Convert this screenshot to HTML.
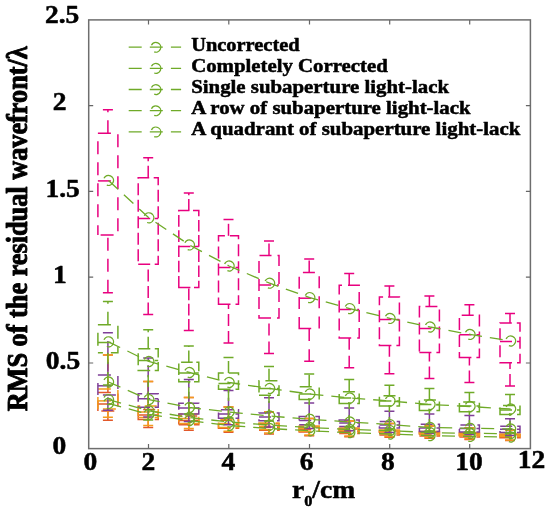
<!DOCTYPE html>
<html><head><meta charset="utf-8"><title>RMS of the residual wavefront</title>
<style>html,body{margin:0;padding:0;background:#fff}body{width:550px;height:510px;overflow:hidden}</style>
</head><body>
<svg width="550" height="510" viewBox="0 0 550 510" style="display:block">
<rect width="550" height="510" fill="#fff"/>
<rect x="88.7" y="19.9" width="441.7" height="428.7" fill="none" stroke="#6e6e6e" stroke-width="1.5"/><path d="M88.7 105.7h4.5M530.4 105.7h-4.5M88.7 191.4h4.5M530.4 191.4h-4.5M88.7 277.2h4.5M530.4 277.2h-4.5M88.7 363.0h4.5M530.4 363.0h-4.5M148.5 448.6v-4.5M148.5 19.9v4.5M228.8 448.6v-4.5M228.8 19.9v4.5M309.5 448.6v-4.5M309.5 19.9v4.5M389.7 448.6v-4.5M389.7 19.9v4.5M469.7 448.6v-4.5M469.7 19.9v4.5" stroke="#666" stroke-width="1.2" fill="none"/>
<g fill="none" stroke-width="1.5"><g stroke="#E8007F"><path d="M97.9 133.2H117.9V234.9H97.9" stroke-dasharray="13 8"/><path d="M97.9 133.2V234.9" stroke-dasharray="13 8" stroke-dashoffset="13"/><path d="M97.9 180.9H117.9" stroke-dasharray="13 8"/><path d="M107.9 133.2V109.7" stroke-dasharray="13 8"/><path d="M107.9 292.8V234.9" stroke-dasharray="13 8"/><path d="M102.9 109.7H112.9M102.9 292.8H112.9"/></g><g stroke="#E8007F"><path d="M138.2 264.3H158.2V177.8H138.2Z" stroke-dasharray="12 4.5"/><path d="M138.2 218.6H158.2" stroke-dasharray="12 4.5"/><path d="M148.2 177.8V157.7" stroke-dasharray="12 4.5"/><path d="M148.2 314.6V264.3" stroke-dasharray="12 4.5"/><path d="M143.2 157.7H153.2M143.2 314.6H153.2"/></g><g stroke="#E8007F"><path d="M178.8 287.5H198.8V210.5H178.8Z" stroke-dasharray="11.6 3.6"/><path d="M178.8 246.6H198.8" stroke-dasharray="11.6 3.6"/><path d="M188.8 210.5V192.9" stroke-dasharray="11.6 3.6"/><path d="M188.8 330.6V287.5" stroke-dasharray="11.6 3.6"/><path d="M183.8 192.9H193.8M183.8 330.6H193.8"/></g><g stroke="#E8007F"><path d="M218.5 304.2H238.5V235.8H218.5Z" stroke-dasharray="12 5"/><path d="M218.5 267.5H238.5" stroke-dasharray="12 5"/><path d="M228.5 235.8V219.5" stroke-dasharray="12 5"/><path d="M228.5 343.1V304.2" stroke-dasharray="12 5"/><path d="M223.5 219.5H233.5M223.5 343.1H233.5"/></g><g stroke="#E8007F"><path d="M259 318H279V255.5H259Z" stroke-dasharray="12 6"/><path d="M259 285H279" stroke-dasharray="12 6"/><path d="M269 255.5V241.1" stroke-dasharray="12 6"/><path d="M269 353.4V318" stroke-dasharray="12 6"/><path d="M264 241.1H274M264 353.4H274"/></g><g stroke="#E8007F"><path d="M299.2 328.5H319.2V272.4H299.2Z" stroke-dasharray="12 8.1"/><path d="M299.2 298.2H319.2" stroke-dasharray="12 8.1"/><path d="M309.2 272.4V258.9" stroke-dasharray="12 8.1"/><path d="M309.2 361.2V328.5" stroke-dasharray="12 8.1"/><path d="M304.2 258.9H314.2M304.2 361.2H314.2"/></g><g stroke="#E8007F"><path d="M339.2 338H359.2V285.2H339.2Z" stroke-dasharray="12 6"/><path d="M339.2 309.6H359.2" stroke-dasharray="12 6"/><path d="M349.2 285.2V273.4" stroke-dasharray="12 6"/><path d="M349.2 367.8V338" stroke-dasharray="12 6"/><path d="M344.2 273.4H354.2M344.2 367.8H354.2"/></g><g stroke="#E8007F"><path d="M379.4 345.6H399.4V296.9H379.4Z" stroke-dasharray="12 5"/><path d="M379.4 319.5H399.4" stroke-dasharray="12 5"/><path d="M389.4 296.9V285.9" stroke-dasharray="12 5"/><path d="M389.4 373.8V345.6" stroke-dasharray="12 5"/><path d="M384.4 285.9H394.4M384.4 373.8H394.4"/></g><g stroke="#E8007F"><path d="M419.4 352.5H439.4V306.5H419.4Z" stroke-dasharray="12 5"/><path d="M419.4 328.4H439.4" stroke-dasharray="12 5"/><path d="M429.4 306.5V296" stroke-dasharray="12 5"/><path d="M429.4 378.4V352.5" stroke-dasharray="12 5"/><path d="M424.4 296H434.4M424.4 378.4H434.4"/></g><g stroke="#E8007F"><path d="M459.4 357.6H479.4V315.3H459.4Z" stroke-dasharray="12 5"/><path d="M459.4 334.8H479.4" stroke-dasharray="12 5"/><path d="M469.4 315.3V304.7" stroke-dasharray="12 5"/><path d="M469.4 382.4V357.6" stroke-dasharray="12 5"/><path d="M464.4 304.7H474.4M464.4 382.4H474.4"/></g><g stroke="#E8007F"><path d="M500 362.8H520V323H500Z" stroke-dasharray="12 5"/><path d="M500 341.6H520" stroke-dasharray="12 5"/><path d="M510 323V313.6" stroke-dasharray="12 5"/><path d="M510 385.9V362.8" stroke-dasharray="12 5"/><path d="M505 313.6H515M505 385.9H515"/></g></g><g fill="none" stroke-width="1.5"><g stroke="#E2582A"><path d="M97.9 392.5H117.9V410.9H97.9" stroke-dasharray="13 8"/><path d="M97.9 392.5V410.9" stroke-dasharray="13 8" stroke-dashoffset="13"/><path d="M97.9 404H117.9" stroke-dasharray="13 8"/><path d="M107.9 392.5V355.1" stroke-dasharray="13 8"/><path d="M107.9 420.3V410.9" stroke-dasharray="13 8"/><path d="M102.9 355.1H112.9M102.9 420.3H112.9"/></g><g stroke="#E2582A"><path d="M138.2 419.4H158.2V409.4H138.2Z" stroke-dasharray="12 4.5"/><path d="M138.2 415H158.2" stroke-dasharray="12 4.5"/><path d="M148.2 409.4V381.6" stroke-dasharray="12 4.5"/><path d="M148.2 427.5V419.4" stroke-dasharray="12 4.5"/><path d="M143.2 381.6H153.2M143.2 427.5H153.2"/></g><g stroke="#E2582A"><path d="M178.8 424.8H198.8V416H178.8Z" stroke-dasharray="11.6 3.6"/><path d="M178.8 420.5H198.8" stroke-dasharray="11.6 3.6"/><path d="M188.8 416V397.5" stroke-dasharray="11.6 3.6"/><path d="M188.8 430.3V424.8" stroke-dasharray="11.6 3.6"/><path d="M183.8 397.5H193.8M183.8 430.3H193.8"/></g><g stroke="#E2582A"><path d="M218.5 428.2H238.5V420.3H218.5Z" stroke-dasharray="12 5"/><path d="M218.5 424.3H238.5" stroke-dasharray="12 5"/><path d="M228.5 420.3V407.1" stroke-dasharray="12 5"/><path d="M228.5 432.3V428.2" stroke-dasharray="12 5"/><path d="M223.5 407.1H233.5M223.5 432.3H233.5"/></g><g stroke="#E2582A"><path d="M259 430.3H279V423.8H259Z" stroke-dasharray="12 6"/><path d="M259 427.2H279" stroke-dasharray="12 6"/><path d="M269 423.8V412" stroke-dasharray="12 6"/><path d="M269 434V430.3" stroke-dasharray="12 6"/><path d="M264 412H274M264 434H274"/></g><g stroke="#E2582A"><path d="M299.2 432H319.2V427H299.2Z" stroke-dasharray="12 8.1"/><path d="M299.2 429.5H319.2" stroke-dasharray="12 8.1"/><path d="M309.2 427V418.5" stroke-dasharray="12 8.1"/><path d="M309.2 435.8V432" stroke-dasharray="12 8.1"/><path d="M304.2 418.5H314.2M304.2 435.8H314.2"/></g><g stroke="#E2582A"><path d="M339.2 433.6H359.2V428.9H339.2Z" stroke-dasharray="12 6"/><path d="M339.2 431.3H359.2" stroke-dasharray="12 6"/><path d="M349.2 428.9V421" stroke-dasharray="12 6"/><path d="M349.2 436.7V433.6" stroke-dasharray="12 6"/><path d="M344.2 421H354.2M344.2 436.7H354.2"/></g><g stroke="#E2582A"><path d="M379.4 434.9H399.4V431H379.4Z" stroke-dasharray="12 5"/><path d="M379.4 433H399.4" stroke-dasharray="12 5"/><path d="M389.4 431V423.6" stroke-dasharray="12 5"/><path d="M389.4 437.3V434.9" stroke-dasharray="12 5"/><path d="M384.4 423.6H394.4M384.4 437.3H394.4"/></g><g stroke="#E2582A"><path d="M419.4 436H439.4V432.4H419.4Z" stroke-dasharray="12 5"/><path d="M419.4 434.2H439.4" stroke-dasharray="12 5"/><path d="M429.4 432.4V426" stroke-dasharray="12 5"/><path d="M429.4 438.3V436" stroke-dasharray="12 5"/><path d="M424.4 426H434.4M424.4 438.3H434.4"/></g><g stroke="#E2582A"><path d="M459.4 436.9H479.4V433.6H459.4Z" stroke-dasharray="12 5"/><path d="M459.4 435.3H479.4" stroke-dasharray="12 5"/><path d="M469.4 433.6V428" stroke-dasharray="12 5"/><path d="M469.4 439.5V436.9" stroke-dasharray="12 5"/><path d="M464.4 428H474.4M464.4 439.5H474.4"/></g><g stroke="#E2582A"><path d="M500 437.7H520V434.8H500Z" stroke-dasharray="12 5"/><path d="M500 436.2H520" stroke-dasharray="12 5"/><path d="M510 434.8V430" stroke-dasharray="12 5"/><path d="M510 440.6V437.7" stroke-dasharray="12 5"/><path d="M505 430H515M505 440.6H515"/></g></g><g fill="none" stroke-width="1.5"><g stroke="#F39B1E"><path d="M97.9 389H117.9V409H97.9" stroke-dasharray="13 8"/><path d="M97.9 389V409" stroke-dasharray="13 8" stroke-dashoffset="13"/><path d="M97.9 400.9H117.9" stroke-dasharray="13 8"/><path d="M107.9 389V355.1" stroke-dasharray="13 8"/><path d="M107.9 417.2V409" stroke-dasharray="13 8"/><path d="M102.9 355.1H112.9M102.9 417.2H112.9"/></g><g stroke="#F39B1E"><path d="M138.2 417.6H158.2V406.1H138.2Z" stroke-dasharray="12 4.5"/><path d="M138.2 412H158.2" stroke-dasharray="12 4.5"/><path d="M148.2 406.1V381.6" stroke-dasharray="12 4.5"/><path d="M148.2 425.5V417.6" stroke-dasharray="12 4.5"/><path d="M143.2 381.6H153.2M143.2 425.5H153.2"/></g><g stroke="#F39B1E"><path d="M178.8 423.5H198.8V414H178.8Z" stroke-dasharray="11.6 3.6"/><path d="M178.8 418.5H198.8" stroke-dasharray="11.6 3.6"/><path d="M188.8 414V397.5" stroke-dasharray="11.6 3.6"/><path d="M188.8 428.6V423.5" stroke-dasharray="11.6 3.6"/><path d="M183.8 397.5H193.8M183.8 428.6H193.8"/></g><g stroke="#F39B1E"><path d="M218.5 427.6H238.5V419.6H218.5Z" stroke-dasharray="12 5"/><path d="M218.5 423.5H238.5" stroke-dasharray="12 5"/><path d="M228.5 419.6V407.1" stroke-dasharray="12 5"/><path d="M228.5 431.2V427.6" stroke-dasharray="12 5"/><path d="M223.5 407.1H233.5M223.5 431.2H233.5"/></g><g stroke="#F39B1E"><path d="M259 429.5H279V423H259Z" stroke-dasharray="12 6"/><path d="M259 426.3H279" stroke-dasharray="12 6"/><path d="M269 423V412" stroke-dasharray="12 6"/><path d="M269 433V429.5" stroke-dasharray="12 6"/><path d="M264 412H274M264 433H274"/></g><g stroke="#F39B1E"><path d="M299.2 431.2H319.2V426H299.2Z" stroke-dasharray="12 8.1"/><path d="M299.2 428.5H319.2" stroke-dasharray="12 8.1"/><path d="M309.2 426V418.5" stroke-dasharray="12 8.1"/><path d="M309.2 435.1V431.2" stroke-dasharray="12 8.1"/><path d="M304.2 418.5H314.2M304.2 435.1H314.2"/></g><g stroke="#F39B1E"><path d="M339.2 432.6H359.2V428H339.2Z" stroke-dasharray="12 6"/><path d="M339.2 430.3H359.2" stroke-dasharray="12 6"/><path d="M349.2 428V421" stroke-dasharray="12 6"/><path d="M349.2 436V432.6" stroke-dasharray="12 6"/><path d="M344.2 421H354.2M344.2 436H354.2"/></g><g stroke="#F39B1E"><path d="M379.4 433.7H399.4V430H379.4Z" stroke-dasharray="12 5"/><path d="M379.4 431.8H399.4" stroke-dasharray="12 5"/><path d="M389.4 430V423.6" stroke-dasharray="12 5"/><path d="M389.4 436.5V433.7" stroke-dasharray="12 5"/><path d="M384.4 423.6H394.4M384.4 436.5H394.4"/></g><g stroke="#F39B1E"><path d="M419.4 434.8H439.4V431.5H419.4Z" stroke-dasharray="12 5"/><path d="M419.4 433.2H439.4" stroke-dasharray="12 5"/><path d="M429.4 431.5V426" stroke-dasharray="12 5"/><path d="M429.4 437.5V434.8" stroke-dasharray="12 5"/><path d="M424.4 426H434.4M424.4 437.5H434.4"/></g><g stroke="#F39B1E"><path d="M459.4 435.7H479.4V432.8H459.4Z" stroke-dasharray="12 5"/><path d="M459.4 434.3H479.4" stroke-dasharray="12 5"/><path d="M469.4 432.8V428" stroke-dasharray="12 5"/><path d="M469.4 438.8V435.7" stroke-dasharray="12 5"/><path d="M464.4 428H474.4M464.4 438.8H474.4"/></g><g stroke="#F39B1E"><path d="M500 436.5H520V434H500Z" stroke-dasharray="12 5"/><path d="M500 435.2H520" stroke-dasharray="12 5"/><path d="M510 434V430" stroke-dasharray="12 5"/><path d="M510 440V436.5" stroke-dasharray="12 5"/><path d="M505 430H515M505 440H515"/></g></g><g fill="none" stroke-width="1.5"><g stroke="#7F3F98"><path d="M97.9 374.9H117.9V394.9H97.9" stroke-dasharray="13 8"/><path d="M97.9 374.9V394.9" stroke-dasharray="13 8" stroke-dashoffset="13"/><path d="M97.9 385.8H117.9" stroke-dasharray="13 8"/><path d="M107.9 374.9V332.7" stroke-dasharray="13 8"/><path d="M107.9 410.3V394.9" stroke-dasharray="13 8"/><path d="M102.9 332.7H112.9M102.9 410.3H112.9"/></g><g stroke="#7F3F98"><path d="M138.2 407.3H158.2V393.8H138.2Z" stroke-dasharray="12 4.5"/><path d="M138.2 398.8H158.2" stroke-dasharray="12 4.5"/><path d="M148.2 393.8V358" stroke-dasharray="12 4.5"/><path d="M148.2 417V407.3" stroke-dasharray="12 4.5"/><path d="M143.2 358H153.2M143.2 417H153.2"/></g><g stroke="#7F3F98"><path d="M178.8 414H198.8V403.3H178.8Z" stroke-dasharray="11.6 3.6"/><path d="M178.8 408H198.8" stroke-dasharray="11.6 3.6"/><path d="M188.8 403.3V379.5" stroke-dasharray="11.6 3.6"/><path d="M188.8 421.5V414" stroke-dasharray="11.6 3.6"/><path d="M183.8 379.5H193.8M183.8 421.5H193.8"/></g><g stroke="#7F3F98"><path d="M218.5 418.2H238.5V409.8H218.5Z" stroke-dasharray="12 5"/><path d="M218.5 414H238.5" stroke-dasharray="12 5"/><path d="M228.5 409.8V390.5" stroke-dasharray="12 5"/><path d="M228.5 424.8V418.2" stroke-dasharray="12 5"/><path d="M223.5 390.5H233.5M223.5 424.8H233.5"/></g><g stroke="#7F3F98"><path d="M259 420.7H279V413H259Z" stroke-dasharray="12 6"/><path d="M259 417H279" stroke-dasharray="12 6"/><path d="M269 413V397.7" stroke-dasharray="12 6"/><path d="M269 427V420.7" stroke-dasharray="12 6"/><path d="M264 397.7H274M264 427H274"/></g><g stroke="#7F3F98"><path d="M299.2 424.7H319.2V416.5H299.2Z" stroke-dasharray="12 8.1"/><path d="M299.2 420.5H319.2" stroke-dasharray="12 8.1"/><path d="M309.2 416.5V403" stroke-dasharray="12 8.1"/><path d="M309.2 428.6V424.7" stroke-dasharray="12 8.1"/><path d="M304.2 403H314.2M304.2 428.6H314.2"/></g><g stroke="#7F3F98"><path d="M339.2 426.6H359.2V420H339.2Z" stroke-dasharray="12 6"/><path d="M339.2 423H359.2" stroke-dasharray="12 6"/><path d="M349.2 420V407.9" stroke-dasharray="12 6"/><path d="M349.2 430.7V426.6" stroke-dasharray="12 6"/><path d="M344.2 407.9H354.2M344.2 430.7H354.2"/></g><g stroke="#7F3F98"><path d="M379.4 427.9H399.4V421.6H379.4Z" stroke-dasharray="12 5"/><path d="M379.4 425H399.4" stroke-dasharray="12 5"/><path d="M389.4 421.6V411.2" stroke-dasharray="12 5"/><path d="M389.4 432.5V427.9" stroke-dasharray="12 5"/><path d="M384.4 411.2H394.4M384.4 432.5H394.4"/></g><g stroke="#7F3F98"><path d="M419.4 431.6H439.4V424.3H419.4Z" stroke-dasharray="12 5"/><path d="M419.4 428H439.4" stroke-dasharray="12 5"/><path d="M429.4 424.3V414" stroke-dasharray="12 5"/><path d="M429.4 433.6V431.6" stroke-dasharray="12 5"/><path d="M424.4 414H434.4M424.4 433.6H434.4"/></g><g stroke="#7F3F98"><path d="M459.4 432H479.4V425H459.4Z" stroke-dasharray="12 5"/><path d="M459.4 428.5H479.4" stroke-dasharray="12 5"/><path d="M469.4 425V415.4" stroke-dasharray="12 5"/><path d="M469.4 434.5V432" stroke-dasharray="12 5"/><path d="M464.4 415.4H474.4M464.4 434.5H474.4"/></g><g stroke="#7F3F98"><path d="M500 432.4H520V426.2H500Z" stroke-dasharray="12 5"/><path d="M500 429.3H520" stroke-dasharray="12 5"/><path d="M510 426.2V418.8" stroke-dasharray="12 5"/><path d="M510 435.4V432.4" stroke-dasharray="12 5"/><path d="M505 418.8H515M505 435.4H515"/></g></g><g fill="none" stroke-width="1.5"><g stroke="#6FAA28"><path d="M97.9 324.8H117.9V352.8H97.9" stroke-dasharray="13 8"/><path d="M97.9 324.8V352.8" stroke-dasharray="13 8" stroke-dashoffset="13"/><path d="M97.9 342.5H117.9" stroke-dasharray="13 8"/><path d="M107.9 324.8V301.5" stroke-dasharray="13 8"/><path d="M107.9 385V352.8" stroke-dasharray="13 8"/><path d="M102.9 301.5H112.9M102.9 385H112.9"/></g><g stroke="#6FAA28"><path d="M138.2 370.4H158.2V348.8H138.2Z" stroke-dasharray="12 4.5"/><path d="M138.2 360.6H158.2" stroke-dasharray="12 4.5"/><path d="M148.2 348.8V329.7" stroke-dasharray="12 4.5"/><path d="M148.2 420V370.4" stroke-dasharray="12 4.5"/><path d="M143.2 329.7H153.2M143.2 420H153.2"/></g><g stroke="#6FAA28"><path d="M178.8 381.7H198.8V362.2H178.8Z" stroke-dasharray="11.6 3.6"/><path d="M178.8 373H198.8" stroke-dasharray="11.6 3.6"/><path d="M188.8 362.2V345.9" stroke-dasharray="11.6 3.6"/><path d="M188.8 414V381.7" stroke-dasharray="11.6 3.6"/><path d="M183.8 345.9H193.8M183.8 414H193.8"/></g><g stroke="#6FAA28"><path d="M218.5 389.2H238.5V373H218.5Z" stroke-dasharray="12 5"/><path d="M218.5 383.6H238.5" stroke-dasharray="12 5"/><path d="M228.5 373V357.4" stroke-dasharray="12 5"/><path d="M228.5 418V389.2" stroke-dasharray="12 5"/><path d="M223.5 357.4H233.5M223.5 418H233.5"/></g><g stroke="#6FAA28"><path d="M259 395.2H279V380.8H259Z" stroke-dasharray="12 6"/><path d="M259 388.5H279" stroke-dasharray="12 6"/><path d="M269 380.8V366.4" stroke-dasharray="12 6"/><path d="M269 421V395.2" stroke-dasharray="12 6"/><path d="M264 366.4H274M264 421H274"/></g><g stroke="#6FAA28"><path d="M299.2 399.5H319.2V386.8H299.2Z" stroke-dasharray="12 8.1"/><path d="M299.2 394H319.2" stroke-dasharray="12 8.1"/><path d="M309.2 386.8V374" stroke-dasharray="12 8.1"/><path d="M309.2 425V399.5" stroke-dasharray="12 8.1"/><path d="M304.2 374H314.2M304.2 425H314.2"/></g><g stroke="#6FAA28"><path d="M339.2 403.5H359.2V391.8H339.2Z" stroke-dasharray="12 6"/><path d="M339.2 398H359.2" stroke-dasharray="12 6"/><path d="M349.2 391.8V379.5" stroke-dasharray="12 6"/><path d="M349.2 427V403.5" stroke-dasharray="12 6"/><path d="M344.2 379.5H354.2M344.2 427H354.2"/></g><g stroke="#6FAA28"><path d="M379.4 405.9H399.4V395.8H379.4Z" stroke-dasharray="12 5"/><path d="M379.4 401H399.4" stroke-dasharray="12 5"/><path d="M389.4 395.8V385.2" stroke-dasharray="12 5"/><path d="M389.4 429V405.9" stroke-dasharray="12 5"/><path d="M384.4 385.2H394.4M384.4 429H394.4"/></g><g stroke="#6FAA28"><path d="M419.4 410.5H439.4V400H419.4Z" stroke-dasharray="12 5"/><path d="M419.4 404.4H439.4" stroke-dasharray="12 5"/><path d="M429.4 400V388.4" stroke-dasharray="12 5"/><path d="M429.4 431V410.5" stroke-dasharray="12 5"/><path d="M424.4 388.4H434.4M424.4 431H434.4"/></g><g stroke="#6FAA28"><path d="M459.4 411.7H479.4V401.9H459.4Z" stroke-dasharray="12 5"/><path d="M459.4 406H479.4" stroke-dasharray="12 5"/><path d="M469.4 401.9V392.6" stroke-dasharray="12 5"/><path d="M469.4 432V411.7" stroke-dasharray="12 5"/><path d="M464.4 392.6H474.4M464.4 432H474.4"/></g><g stroke="#6FAA28"><path d="M500 414.4H520V405.4H500Z" stroke-dasharray="12 5"/><path d="M500 410H520" stroke-dasharray="12 5"/><path d="M510 405.4V394.5" stroke-dasharray="12 5"/><path d="M510 433V414.4" stroke-dasharray="12 5"/><path d="M505 394.5H515M505 433H515"/></g></g><g fill="none" stroke="#6FAA28" stroke-width="1.3"><polyline points="108.5,180.4 148.8,217.8 189.4,244.9 229.1,266 269.6,283.2 309.8,297.6 349.8,308.6 390,318.4 430,327 470,334.4 510.6,341" stroke-dasharray="13 8"/><path d="M103.97 178.29A5.0 5.0 0 1 1 106.79 185.1M144.27 215.69A5.0 5.0 0 1 1 147.09 222.5M184.87 242.79A5.0 5.0 0 1 1 187.69 249.6M224.57 263.89A5.0 5.0 0 1 1 227.39 270.7M265.07 281.09A5.0 5.0 0 1 1 267.89 287.9M305.27 295.49A5.0 5.0 0 1 1 308.09 302.3M345.27 306.49A5.0 5.0 0 1 1 348.09 313.3M385.47 316.29A5.0 5.0 0 1 1 388.29 323.1M425.47 324.89A5.0 5.0 0 1 1 428.29 331.7M465.47 332.29A5.0 5.0 0 1 1 468.29 339.1M506.07 338.89A5.0 5.0 0 1 1 508.89 345.7"/><polyline points="108.5,341.8 148.8,361.5 189.4,372.5 229.1,382.5 269.6,388.5 309.8,394 349.8,398 390,401 430,404.5 470,406.5 510.6,409" stroke-dasharray="13 8"/><path d="M103.97 339.69A5.0 5.0 0 1 1 106.79 346.5M144.27 359.39A5.0 5.0 0 1 1 147.09 366.2M184.87 370.39A5.0 5.0 0 1 1 187.69 377.2M224.57 380.39A5.0 5.0 0 1 1 227.39 387.2M265.07 386.39A5.0 5.0 0 1 1 267.89 393.2M305.27 391.89A5.0 5.0 0 1 1 308.09 398.7M345.27 395.89A5.0 5.0 0 1 1 348.09 402.7M385.47 398.89A5.0 5.0 0 1 1 388.29 405.7M425.47 402.39A5.0 5.0 0 1 1 428.29 409.2M465.47 404.39A5.0 5.0 0 1 1 468.29 411.2M506.07 406.89A5.0 5.0 0 1 1 508.89 413.7"/><polyline points="108.5,382 148.8,399.6 189.4,407.5 229.1,412 269.6,416 309.8,419.3 349.8,422 390,424.6 430,427.5 470,428.3 510.6,428.9" stroke-dasharray="13 8"/><path d="M103.97 379.89A5.0 5.0 0 1 1 106.79 386.7M144.27 397.49A5.0 5.0 0 1 1 147.09 404.3M184.87 405.39A5.0 5.0 0 1 1 187.69 412.2M224.57 409.89A5.0 5.0 0 1 1 227.39 416.7M265.07 413.89A5.0 5.0 0 1 1 267.89 420.7M305.27 417.19A5.0 5.0 0 1 1 308.09 424M345.27 419.89A5.0 5.0 0 1 1 348.09 426.7M385.47 422.49A5.0 5.0 0 1 1 388.29 429.3M425.47 425.39A5.0 5.0 0 1 1 428.29 432.2M465.47 426.19A5.0 5.0 0 1 1 468.29 433M506.07 426.79A5.0 5.0 0 1 1 508.89 433.6"/><polyline points="108.5,399.6 148.8,410.8 189.4,417.5 229.1,422 269.6,425 309.8,427.5 349.8,429.5 390,430.6 430,432.6 470,433.4 510.6,433.6" stroke-dasharray="13 8"/><path d="M103.97 397.49A5.0 5.0 0 1 1 106.79 404.3M144.27 408.69A5.0 5.0 0 1 1 147.09 415.5M184.87 415.39A5.0 5.0 0 1 1 187.69 422.2M224.57 419.89A5.0 5.0 0 1 1 227.39 426.7M265.07 422.89A5.0 5.0 0 1 1 267.89 429.7M305.27 425.39A5.0 5.0 0 1 1 308.09 432.2M345.27 427.39A5.0 5.0 0 1 1 348.09 434.2M385.47 428.49A5.0 5.0 0 1 1 388.29 435.3M425.47 430.49A5.0 5.0 0 1 1 428.29 437.3M465.47 431.29A5.0 5.0 0 1 1 468.29 438.1M506.07 431.49A5.0 5.0 0 1 1 508.89 438.3"/><polyline points="108.5,403.4 148.8,414.4 189.4,420.5 229.1,425.5 269.6,428.5 309.8,430.8 349.8,432.6 390,434 430,435.6 470,436.4 510.6,437" stroke-dasharray="13 8"/><path d="M103.97 401.29A5.0 5.0 0 1 1 106.79 408.1M144.27 412.29A5.0 5.0 0 1 1 147.09 419.1M184.87 418.39A5.0 5.0 0 1 1 187.69 425.2M224.57 423.39A5.0 5.0 0 1 1 227.39 430.2M265.07 426.39A5.0 5.0 0 1 1 267.89 433.2M305.27 428.69A5.0 5.0 0 1 1 308.09 435.5M345.27 430.49A5.0 5.0 0 1 1 348.09 437.3M385.47 431.89A5.0 5.0 0 1 1 388.29 438.7M425.47 433.49A5.0 5.0 0 1 1 428.29 440.3M465.47 434.29A5.0 5.0 0 1 1 468.29 441.1M506.07 434.89A5.0 5.0 0 1 1 508.89 441.7"/></g>
<g fill="none" stroke="#6FAA28" stroke-width="1.3"><path d="M128.7 47.2H181.1" stroke-dasharray="13 8.1"/><path d="M151.46 45.23A4.9 4.9 0 1 1 154.22 51.9"/><path d="M128.7 68.3H181.1" stroke-dasharray="13 8.1"/><path d="M151.46 66.33A4.9 4.9 0 1 1 154.22 73"/><path d="M128.7 89.5H181.1" stroke-dasharray="13 8.1"/><path d="M151.46 87.53A4.9 4.9 0 1 1 154.22 94.2"/><path d="M128.7 110.7H181.1" stroke-dasharray="13 8.1"/><path d="M151.46 108.73A4.9 4.9 0 1 1 154.22 115.4"/><path d="M128.7 131.9H181.1" stroke-dasharray="13 8.1"/><path d="M151.46 129.93A4.9 4.9 0 1 1 154.22 136.6"/></g>
<g font-family="'Liberation Serif','Times New Roman',serif" font-weight="bold" fill="#000" stroke="#000" stroke-width="0.5" stroke-linejoin="round">
<text x="191.2" y="50.7" font-size="18.7" text-anchor="start" textLength="108.4" lengthAdjust="spacingAndGlyphs">Uncorrected</text>
<text x="191.2" y="71.9" font-size="18.7" text-anchor="start" textLength="196.6" lengthAdjust="spacingAndGlyphs">Completely Corrected</text>
<text x="191.2" y="92.9" font-size="18.7" text-anchor="start" textLength="257.8" lengthAdjust="spacingAndGlyphs">Single subaperture light-lack</text>
<text x="191.2" y="114.1" font-size="18.7" text-anchor="start" textLength="279.4" lengthAdjust="spacingAndGlyphs">A row of subaperture light-lack</text>
<text x="191.2" y="135.4" font-size="18.7" text-anchor="start" textLength="329.1" lengthAdjust="spacingAndGlyphs">A quadrant of subaperture light-lack</text>
<text x="62.1" y="23.4" font-size="25" text-anchor="middle" transform="translate(62.1 0) scale(1.1 1) translate(-62.1 0)">2.5</text>
<text x="59.6" y="109.8" font-size="25" text-anchor="middle" transform="translate(59.6 0) scale(1.1 1) translate(-59.6 0)">2</text>
<text x="62.6" y="196.6" font-size="25" text-anchor="middle" transform="translate(62.6 0) scale(1.1 1) translate(-62.6 0)">1.5</text>
<text x="60" y="283.4" font-size="25" text-anchor="middle" transform="translate(60 0) scale(1.1 1) translate(-60 0)">1</text>
<text x="63" y="368.7" font-size="25" text-anchor="middle" transform="translate(63 0) scale(1.1 1) translate(-63 0)">0.5</text>
<text x="59.4" y="454.2" font-size="25" text-anchor="middle" transform="translate(59.4 0) scale(1.1 1) translate(-59.4 0)">0</text>
<text x="90.5" y="470.1" font-size="25" text-anchor="middle" transform="translate(90.5 0) scale(1.1 1) translate(-90.5 0)">0</text>
<text x="148.3" y="470.1" font-size="25" text-anchor="middle" transform="translate(148.3 0) scale(1.1 1) translate(-148.3 0)">2</text>
<text x="228.5" y="470.1" font-size="25" text-anchor="middle" transform="translate(228.5 0) scale(1.1 1) translate(-228.5 0)">4</text>
<text x="306.7" y="470.1" font-size="25" text-anchor="middle" transform="translate(306.7 0) scale(1.1 1) translate(-306.7 0)">6</text>
<text x="388" y="470.1" font-size="25" text-anchor="middle" transform="translate(388 0) scale(1.1 1) translate(-388 0)">8</text>
<text x="469" y="470.4" font-size="25" text-anchor="middle" transform="translate(469 0) scale(1.1 1) translate(-469 0)">10</text>
<text x="531.5" y="468.5" font-size="25" text-anchor="middle" transform="translate(531.5 0) scale(1.1 1) translate(-531.5 0)">12</text>
<text x="292" y="497.6" font-size="25.4" transform="translate(292 0) scale(1.085 1) translate(-292 0)">r<tspan font-size="15" dy="8">0</tspan><tspan dy="-8">/cm</tspan></text>
<text transform="translate(27 411.3) rotate(-90) scale(1 1.17)" font-size="25" stroke-width="0.8" textLength="365" lengthAdjust="spacingAndGlyphs">RMS of the residual wavefront/λ</text>
</g>
</svg>
</body></html>
